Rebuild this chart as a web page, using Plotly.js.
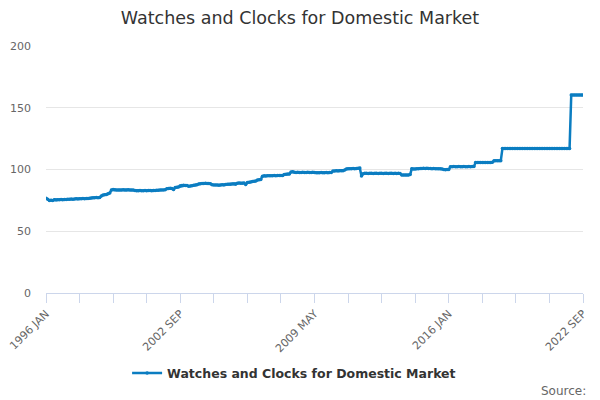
<!DOCTYPE html>
<html>
<head>
<meta charset="utf-8">
<script src="https://cdn.plot.ly/plotly-3.0.1.min.js"></script>
<style>
  html, body { margin: 0; padding: 0; background: #fff; }
  #chart { width: 600px; height: 400px; }
</style>
</head>
<body>
<div id="chart"></div>
<script>
// months and years of the series (1996 JAN .. 2022 SEP)
const monthNames = ['JAN','FEB','MAR','APR','MAY','JUN','JUL','AUG','SEP','OCT','NOV','DEC'];
const years = [1996,1997,1998,1999,2000,2001,2002,2003,2004,2005,2006,2007,2008,2009,
  2010,2011,2012,2013,2014,2015,2016,2017,2018,2019,2020,2021,2022];

// index values, one row per year
const v1996 = [76.7,76.0,75.0,75.2,75.0,75.6,75.4,75.6,75.5,75.8,75.6,75.7];
const v1997 = [75.8,76.0,75.9,76.1,76.0,76.2,76.3,76.2,76.4,76.3,76.5,76.4];
const v1998 = [76.6,76.5,76.7,77.0,77.2,77.1,77.3,77.2,77.4,78.6,79.4,79.6];
const v1999 = [79.8,80.4,81.0,83.5,83.8,83.6,83.4,83.5,83.3,83.4,83.6,83.5];
const v2000 = [83.4,83.6,83.5,83.3,83.4,82.9,82.7,82.8,82.9,82.8,82.7,82.9];
const v2001 = [82.8,82.9,83.0,82.8,82.9,83.0,83.1,83.2,83.3,83.4,83.5,83.7];
const v2002 = [84.5,84.6,84.8,84.7,83.8,85.4,85.6,85.9,86.8,87.0,87.2,87.1];
const v2003 = [87.0,86.4,86.6,86.8,87.2,87.4,87.6,88.3,88.5,88.6,88.7,88.8];
const v2004 = [88.7,88.6,88.5,87.6,87.5,87.4,87.5,87.3,87.4,87.6,87.5,87.9];
const v2005 = [88.0,88.1,88.0,88.2,88.3,88.1,88.8,89.0,88.9,88.8,89.0,87.8];
const v2006 = [89.4,89.6,89.8,90.2,90.4,90.6,91.4,91.6,92.0,94.6,95.0,94.8];
const v2007 = [94.9,95.0,94.9,95.0,95.1,95.0,95.1,95.2,95.1,95.2,96.0,96.2];
const v2008 = [96.3,96.4,97.9,98.2,97.8,97.6,97.7,97.5,97.6,97.7,97.5,97.6];
const v2009 = [97.7,97.6,97.5,97.7,97.6,97.4,97.3,97.4,97.5,97.3,97.4,97.5];
const v2010 = [97.4,97.5,97.6,98.7,98.8,98.9,98.8,98.9,99.0,98.9,99.6,100.4];
const v2011 = [100.6,100.7,100.6,100.8,100.7,100.9,101.0,101.2,94.7,96.6,96.9,96.9];
const v2012 = [96.8,96.9,96.9,96.8,96.9,96.9,96.8,96.9,96.9,96.8,96.9,96.9];
const v2013 = [96.8,96.9,96.9,96.8,96.9,96.8,96.9,96.7,95.6,95.5,95.5,95.6];
const v2014 = [95.5,96.0,100.6,100.4,100.5,100.7,100.6,100.8,100.9,101.0,100.9,101.0];
const v2015 = [100.8,100.9,100.7,100.8,100.7,100.6,100.7,100.6,100.5,100.0,99.8,99.9];
const v2016 = [100.1,102.2,102.3,102.4,102.3,102.3,102.4,102.3,102.3,102.4,102.3,102.3];
const v2017 = [102.4,102.3,102.4,102.4,105.6,105.7,105.7,105.6,105.7,105.7,105.6,105.7];
const v2018 = [105.7,105.6,105.8,107.0,107.1,107.0,107.1,107.0,117.1,117.1,117.1,117.1];
const v2019 = [117.1,117.1,117.1,117.1,117.1,117.1,117.1,117.1,117.1,117.1,117.1,117.1];
const v2020 = [117.1,117.1,117.1,117.1,117.1,117.1,117.1,117.1,117.1,117.1,117.1,117.1];
const v2021 = [117.1,117.1,117.1,117.1,117.1,117.1,117.1,117.1,117.1,117.1,117.1,117.1];
const v2022 = [117.1,160.3,160.3,160.3,160.3,160.3,160.3,160.3,160.3];

const yearValues = [v1996,v1997,v1998,v1999,v2000,v2001,v2002,v2003,v2004,v2005,v2006,
  v2007,v2008,v2009,v2010,v2011,v2012,v2013,v2014,v2015,v2016,v2017,v2018,v2019,
  v2020,v2021,v2022];

const labels = [];
const values = [];
years.forEach((yr, i) => {
  yearValues[i].forEach((v, k) => {
    labels.push(yr + ' ' + monthNames[k]);
    values.push(v);
  });
});

// a tick every 20 months, a label every 80
const tickVals = [];
const tickText = [];
for (let i = 0; i < labels.length; i += 20) {
  tickVals.push(labels[i]);
  tickText.push(i % 80 === 0 ? labels[i] : '');
}

const font = 'DejaVu Sans, sans-serif';

const trace = {
  x: labels, y: values,
  type: 'scatter', mode: 'lines+markers',
  name: 'Watches and Clocks for Domestic Market',
  line: { color: '#0b7dc1', width: 2.5 },
  marker: { color: '#0b7dc1', size: 3.5 },
  hoverinfo: 'x+y'
};

const layout = {
  width: 600, height: 400,
  margin: { l: 46, r: 17, t: 46, b: 107 },
  paper_bgcolor: '#fff', plot_bgcolor: '#fff',
  font: { family: font, color: '#666', size: 11 },
  title: {
    text: 'Watches and Clocks for Domestic Market',
    font: { family: font, size: 17.5, color: '#333' },
    x: 0.5, xanchor: 'center', y: 0.955, yanchor: 'middle'
  },
  xaxis: {
    type: 'category',
    range: [0, labels.length - 1],
    tickmode: 'array', tickvals: tickVals, ticktext: tickText,
    tickangle: -45,
    ticks: 'outside', ticklen: 9, tickcolor: '#ccd6eb', tickwidth: 1,
    showline: true, linecolor: '#ccd6eb', linewidth: 1,
    showgrid: false, zeroline: false,
    tickfont: { family: font, size: 11, color: '#666' }
  },
  yaxis: {
    range: [0, 200], tickvals: [0, 50, 100, 150, 200],
    showgrid: true, gridcolor: '#e6e6e6', gridwidth: 1,
    zeroline: false, showline: false, ticks: '',
    ticklabelstandoff: 14,
    tickfont: { family: font, size: 11, color: '#666' }
  },
  showlegend: true,
  legend: {
    orientation: 'h', x: 0.462, xanchor: 'center', y: -0.325, yanchor: 'middle',
    font: { family: font, size: 12.5, color: '#333', weight: 'bold' }
  },
  annotations: [{
    text: 'Source:', xref: 'paper', yref: 'paper',
    x: 1.01, y: -0.395, xanchor: 'right', yanchor: 'middle',
    showarrow: false, font: { family: font, size: 12, color: '#666' }
  }]
};

Plotly.newPlot('chart', [trace], layout, { displayModeBar: false, staticPlot: true });
</script>
</body>
</html>
